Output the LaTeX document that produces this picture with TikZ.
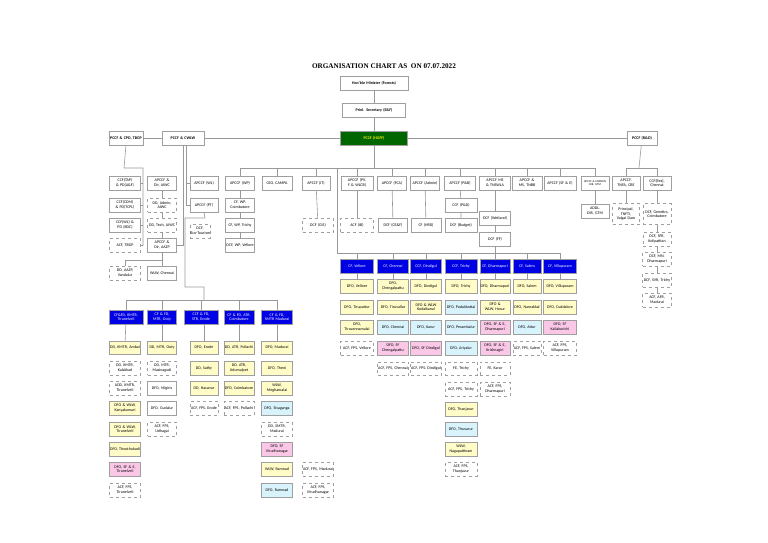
\documentclass[tikz,border=0pt]{standalone}
\usepackage{fontspec}
\setmainfont{Carlito}
\newfontfamily\ttlfont{Liberation Serif}
\hyphenpenalty=10000 \exhyphenpenalty=10000
\begin{document}
\begin{tikzpicture}[x=1pt,y=-1pt,
 base/.style={draw=gray!75,line width=0.5pt,align=center,inner sep=0.3pt,font=\fontsize{4}{4.6}\selectfont,minimum height=13.5pt,text width=#1-1pt,minimum width=#1},
 wb/.style={base=#1,fill=white},wb/.default=30pt,
 db/.style={base=#1,fill=white,dashed},db/.default=30pt,
 yb/.style={base=#1,fill=yellow!22},yb/.default=30pt,
 lb/.style={base=#1,fill=cyan!15},lb/.default=30pt,
 pb/.style={base=#1,fill=magenta!22},pb/.default=30pt,
 bb/.style={base=#1,fill=blue!90!black,text=white,font=\fontsize{4}{4.6}\selectfont},bb/.default=30pt,
 ln/.style={draw=gray!80,line width=0.6pt}]
\newcommand\B[5]{\node[#1] (#2) at (#3,#4) {#5};}
\useasboundingbox (0,0) rectangle (768,543);
\node[font=\ttlfont\bfseries\fontsize{7.2}{8}\selectfont] (title) at (384,66) {ORGANISATION CHART AS\ \ ON 07.07.2022};
% top
\B{wb=68pt}{min}{374}{83}{\bfseries Hon'ble Minister (Forests)}
\B{wb=63pt}{sec}{374}{110}{\bfseries Prinl. Secretary (E\&F)}
\node[base=67pt,fill=green!40!black,text=yellow,font=\bfseries\fontsize{4}{4.6}\selectfont] (hoff) at (374,138) {PCCF (HOFF)};
\B{wb=34pt}{cpd}{126}{138}{\bfseries PCCF \& CPD, TBGP}
\B{wb=42pt}{cwlw}{183}{138}{\bfseries PCCF \& CWLW}
\B{wb=30pt}{rd}{642}{138}{\bfseries PCCF (R\&D)}
\draw[ln] (min)--(sec)--(hoff);
\draw[ln] (cpd)--(cwlw)--(hoff)--(rd);
% row 1
\B{wb=31pt}{tap}{125}{183}{CCF(TAP) \& PD(A\&F)}
\B{wb=29pt}{aiwc}{162}{183}{APCCF \& Dir, AIWC}
\B{wb=28pt}{wl}{204}{183}{APCCF (WL)}
\B{wb=29pt}{wp}{240}{183}{APCCF (WP)}
\B{wb=30pt}{campa}{277}{183}{CEO, CAMPA}
\B{wb=28pt}{it}{316}{183}{APCCF (IT)}
\B{wb=32pt}{pv}{357}{183}{APCCF (PV, F \& WLCB)}
\B{wb=29pt}{fca}{392}{183}{APCCF (FCA)}
\B{wb=29pt}{adm}{425}{183}{APCCF (Admin)}
\B{wb=31pt}{pb}{460}{183}{APCCF (P\&B)}
\B{wb=31pt}{ms}{495}{183}{APCCF MS \& TNSWLA}
\B{wb=30pt}{tnbb}{527}{183}{APCCF \& MS, TNBB}
\B{wb=32pt}{sfe}{560}{183}{APCCF (SF \& E)}
\node[wb=28pt,font=\fontsize{2.9}{3.4}\selectfont] (gtm) at (595,183) {APCCF \& MISSION DIR, GTM};
\B{wb=28pt}{tnfa}{626}{183}{APCCF, TNFA, CBE}
\B{wb=28pt}{res}{657}{183}{CCF(Res), Chennai}
\draw[ln] (hoff)--(374,168);
\draw[ln] (240,168)--(595,168);
\foreach \n in {wp,campa,it,pv,fca,adm,pb,ms,tnbb,sfe,gtm} \draw[ln] (\n.north|-0,168)--(\n.north);
\draw[ln] (rd)--(639,168); \draw[ln] (626,168)--(657,168);
\draw[ln] (tnfa.north|-0,168)--(tnfa.north); \draw[ln] (res.north|-0,168)--(res.north);
% left groups
\B{wb=31pt}{cdm}{125}{205}{CCF(CDM) \& PD(TCPL)}
\B{wb=31pt}{bdc}{125}{225}{CCF(WL) \& PD (BDC)}
\B{db=31pt}{tbgp}{125}{245}{ACF, TBGP}
\draw[ln] (cpd.south)--(124,168)-|(143,246);
\foreach \n in {tap,cdm,bdc,tbgp} \draw[ln] (\n.east)--(143,0|-\n.east);
\B{db=29pt}{ddadm}{162}{205}{DD, Admin, AIWC}
\B{db=29pt}{ddtech}{162}{225}{DD, Tech, AIWC}
\B{wb=29pt}{aazp}{162}{245}{APCCF \& Dir, AAZP}
\draw[ln] (aiwc)--(ddadm)--(ddtech)--(aazp);
\draw[ln] (183,145)--(183,245)--(aazp.east);
\B{wb=28pt}{pt}{204}{205}{APCCF (PT)}
\draw[ln] (186,145)--(186,205)--(pt.west);
\draw[ln] (186,183)--(wl.west);
\B{db=20pt}{eco}{200}{231}{DCF, Eco-Tourism}
\draw[ln] (pt.south)--(205,218)--(185,218)--(185,287)--(204,287)--(204,300);
\B{db=31pt}{vand}{125}{273}{DD, AAZP, Vandalur}
\B{wb=29pt}{wlwc}{162}{273}{WLW, Chennai}
\draw[ln] (aazp.south)--(162,260); \draw[ln] (125,260)--(162,260); \draw[ln] (125,260)--(vand.north); \draw[ln] (162,260)--(wlwc.north);
% WP column
\B{wb=29pt}{wpc}{240}{205}{CF, WP, Coimbatore}
\B{wb=29pt}{wpt}{240}{225}{CF, WP, Trichy}
\B{wb=29pt}{wpv}{240}{245}{DCF, WP, Vellore}
\draw[ln] (wp)--(wpc)--(wpt)--(wpv);
\B{db=31pt}{gis}{318}{225}{DCF (GIS)}
\B{db=33pt}{ib}{357}{225}{ACF (IB)}
\draw[ln] (it)--(gis); \draw[ln] (pv)--(ib);
\B{wb=29pt}{cef}{393}{225}{DCF (CE\&F)}
\B{wb=30pt}{hrd}{426}{225}{CF (HRD)}
\draw[ln] (fca)--(cef); \draw[ln] (adm)--(hrd);
\B{wb=32pt}{pd}{461}{205}{CCF (P\&D)}
\B{wb=32pt}{bud}{461}{225}{DCF (Budget)}
\draw[ln] (pb)--(pd)--(bud);
\B{wb=31pt}{wet}{495}{218}{DCF (Wetland)}
\B{wb=31pt}{ff}{495}{239}{DCF (FF)}
\draw[ln] (ms)--(wet)--(ff)--(495,253);
\B{wb=28pt}{addl}{595}{211}{ADDL. DIR, GTM}
\draw[ln] (gtm)--(addl);
\node[db=27pt,minimum height=21pt] (prin) at (626,214) {Principal, TNFTI, Vaigai Dam};
\node[db=28pt,minimum height=21pt] (gen) at (657,214) {DCF, Genetics, Coimbatore};
\draw[ln] (tnfa)--(prin);
\B{db=28pt}{sfr}{657}{239}{DCF, SFR, Kolipattian}
\B{db=29pt}{mn}{657}{259}{DCF, MN, Dharmapuri}
\B{db=29pt}{svr}{657}{280}{DCF, SVR, Trichy}
\B{db=29pt}{afr}{657}{300}{ACF, AFR, Madurai}
\draw[ln] (res)--(gen)--(sfr)--(mn)--(svr)--(afr);
% CF&FD row
\draw[ln] (126,300)--(277,300);
\B{bb=34pt}{kmtr}{126}{317}{CF\&FD, KMTR, Tirunelveli}
\B{bb=29pt}{mtr}{162}{317}{CF \& FD, MTR, Ooty}
\B{bb=34pt}{str}{201}{317}{CCF \& FD, STR, Erode}
\B{bb=30pt}{atr}{239}{317}{CF \& FD, ATR, Coimbatore}
\B{bb=31pt}{smtr}{277}{317}{CF \& FD, SMTR Madurai}
\foreach \n in {kmtr,mtr,str,atr,smtr} \draw[ln] (\n.north|-0,300)--(\n.north);
\def\ra{347.5}\def\rb{368}\def\rc{388}\def\rd{408}\def\re{429}\def\rf{449}\def\rg{469}\def\rh{490}
\B{yb=31pt}{k1}{125}{\ra}{DD, KMTR, Ambai}
\B{db=31pt}{k2}{125}{\rb}{DD, KMTR, Kalakkad}
\B{db=31pt}{k3}{125}{\rc}{ADD, KMTR, Tirunelveli}
\B{yb=31pt}{k4}{125}{\rd}{DFO \& WLW, Kanyakumari}
\B{yb=31pt}{k5}{125}{\re}{DFO \& WLW, Tirunelveli}
\B{yb=31pt}{k6}{125}{\rf}{DFO, Thoothukudi}
\B{pb=31pt}{k7}{125}{\rg}{DFO, SF \& E, Tirunelveli}
\B{db=31pt}{k8}{125}{\rh}{ACF, FPS, Tirunelveli}
\B{yb=29pt}{m1}{162}{\ra}{DD, MTR, Ooty}
\B{db=29pt}{m2}{162}{\rb}{DD, MTR, Masinagudi}
\B{wb=29pt}{m3}{162}{\rc}{DFO, Nilgiris}
\B{wb=29pt}{m4}{162}{\rd}{DFO, Gudalur}
\B{db=29pt}{m5}{162}{\re}{ACF, FPS, Udhagai}
\B{yb=28pt}{s1}{204}{\ra}{DFO, Erode}
\B{yb=28pt}{s2}{204}{\rb}{DD, Sathy}
\B{yb=28pt}{s3}{204}{\rc}{DD, Hasanur}
\B{db=28pt}{s4}{204}{\rd}{ACF, FPS, Erode}
\B{yb=30pt}{a1}{239}{\ra}{DD, ATR, Pollachi}
\B{yb=30pt}{a2}{239}{\rb}{DD, ATR, Udumalpet}
\B{yb=30pt}{a3}{239}{\rc}{DFO, Coimbatore}
\B{db=30pt}{a4}{239}{\rd}{ACF, FPS, Pollachi}
\B{yb=31pt}{t1}{277}{\ra}{DFO, Madurai}
\B{yb=31pt}{t2}{277}{\rb}{DFO, Theni}
\B{yb=31pt}{t3}{277}{\rc}{WLW, Meghamalai}
\B{lb=31pt}{t4}{277}{\rd}{DFO, Sivaganga}
\B{db=31pt}{t5}{277}{\re}{DD, SMTR, Madurai}
\B{pb=31pt}{t6}{277}{\rf}{DFO, SF Virudhunagar}
\B{yb=31pt}{t7}{277}{\rg}{WLW, Ramnad}
\B{lb=31pt}{t8}{277}{\rh}{DFO, Ramnad}
\B{db=31pt}{t9}{318}{\rg}{ACF, FPS, Madurai}
\B{db=31pt}{t10}{318}{\rh}{ACF, FPS, Virudhunagar}
\draw[ln] (kmtr)--(k1); \draw[ln] (mtr)--(m1); \draw[ln] (str.south-|s1)--(s1); \draw[ln] (atr)--(a1); \draw[ln] (smtr)--(t1);
% CF row
\draw[ln] (337,168)--(337,253)--(560,253);
\B{bb=33pt}{vel}{357}{266}{CF, Vellore}
\B{bb=31pt}{che}{393}{266}{CF, Chennai}
\B{bb=31pt}{din}{426}{266}{CCF, Dindigul}
\B{bb=32pt}{tri}{461}{266}{CCF, Trichy}
\B{bb=30pt}{dha}{495}{266}{CF, Dharmapuri}
\B{bb=28pt}{sal}{527}{266}{CF, Salem}
\B{bb=33pt}{vil}{560}{266}{CF, Villupuram}
\foreach \n in {vel,che,din,tri,dha,sal,vil} \draw[ln] (\n.north|-0,253)--(\n.north);
\def\ca{286}\def\cb{307}\def\cc{327}\def\cd{348}\def\ce{368.5}\def\cf{389}\def\cg{409}\def\ch{429}\def\ci{449}\def\cj{469}
\B{yb=33pt}{v1}{357}{\ca}{DFO, Vellore}
\B{yb=33pt}{v2}{357}{\cb}{DFO, Tirupattur}
\B{yb=33pt}{v3}{357}{\cc}{DFO, Tiruvannamalai}
\B{db=33pt}{v4}{357}{\cd}{ACF, FPS, Vellore}
\B{yb=31pt}{c1}{393}{\ca}{DFO, Chengalpattu}
\B{yb=31pt}{c2}{393}{\cb}{DFO, Tiruvallur}
\B{lb=31pt}{c3}{393}{\cc}{DFO, Chennai}
\B{pb=31pt}{c4}{393}{\cd}{DFO, SF Chengalpattu}
\B{db=31pt}{c5}{393}{\ce}{ACF, FPS, Chennai}
\B{yb=31pt}{d1}{426}{\ca}{DFO, Dindigul}
\B{yb=31pt}{d2}{426}{\cb}{DFO \& WLW Kodaikanal}
\B{lb=31pt}{d3}{426}{\cc}{DFO, Karur}
\B{pb=31pt}{d4}{426}{\cd}{DFO, SF Dindigul}
\B{db=31pt}{d5}{426}{\ce}{ACF, FPS, Dindigul}
\B{yb=32pt}{r1}{461}{\ca}{DFO, Trichy}
\B{lb=32pt}{r2}{461}{\cb}{DFO, Pudukkottai}
\B{lb=32pt}{r3}{461}{\cc}{DFO, Perambalur}
\B{lb=32pt}{r4}{461}{\cd}{DFO, Ariyalur}
\B{db=32pt}{r5}{461}{\ce}{FE, Trichy}
\B{db=32pt}{r6}{461}{\cf}{ACF, FPS, Trichy}
\B{yb=32pt}{r7}{461}{\cg}{DFO, Thanjavur}
\B{lb=32pt}{r8}{461}{\ch}{DFO, Tiruvarur}
\B{yb=32pt}{r9}{461}{\ci}{WLW, Nagapattinam}
\B{db=32pt}{r10}{461}{\cj}{ACF, FPS, Thanjavur}
\B{yb=30pt}{h1}{495}{\ca}{DFO, Dharmapuri}
\B{yb=30pt}{h2}{495}{\cb}{DFO \& WLW, Hosur}
\B{pb=30pt}{h3}{495}{\cc}{DFO, SF \& E, Dharmapuri}
\B{pb=30pt}{h4}{495}{\cd}{DFO, SF \& E, Krishnagiri}
\B{db=30pt}{h5}{495}{\ce}{FE, Karur}
\B{db=30pt}{h6}{495}{\cf}{ACF, FPS, Dharmapuri}
\B{yb=28pt}{l1}{527}{\ca}{DFO, Salem}
\B{yb=28pt}{l2}{527}{\cb}{DFO, Namakkal}
\B{lb=28pt}{l3}{527}{\cc}{DFO, Attur}
\B{db=28pt}{l4}{527}{\cd}{ACF, FPS, Salem}
\B{yb=33pt}{u1}{560}{\ca}{DFO, Villupuram}
\B{yb=33pt}{u2}{560}{\cb}{DFO, Cuddalore}
\B{pb=33pt}{u3}{560}{\cc}{DFO, SF Kallakurichi}
\B{db=33pt}{u4}{560}{\cd}{ACF, FPS, Villupuram}
\foreach \a/\b in {vel/v1,che/c1,din/d1,tri/r1,dha/h1,sal/l1,vil/u1} \draw[ln] (\a)--(\b);
\end{tikzpicture}
\end{document}
